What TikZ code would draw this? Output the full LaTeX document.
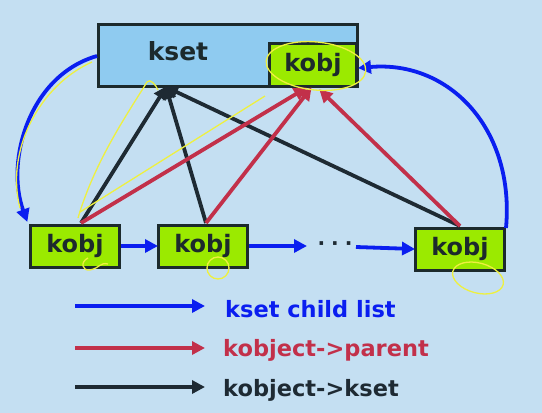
\documentclass[tikz,border=0pt]{standalone}
\usepackage{fontspec}
\setmainfont{DejaVu Sans}
\usetikzlibrary{arrows.meta,calc}
\definecolor{bg}{HTML}{C4DFF2}
\definecolor{ksetfill}{HTML}{8FCBF0}
\definecolor{lime}{HTML}{9BEA00}
\definecolor{edge}{HTML}{1C2A2C}
\definecolor{bluearr}{HTML}{0A1EF0}
\definecolor{redarr}{HTML}{C2304A}
\definecolor{blackarr}{HTML}{1E2A33}
\definecolor{hl}{HTML}{EEF040}
\tikzset{
  ksetbox/.style={draw=edge, line width=3pt, fill=ksetfill, minimum width=259pt, minimum height=62pt, inner sep=0pt, anchor=north west},
  kobjbox/.style={draw=edge, line width=3pt, fill=lime, minimum width=89pt, minimum height=42pt, inner sep=0pt, text=edge, font=\fontsize{24}{28}\selectfont\bfseries},
  lbl/.style={font=\fontsize{22.5}{26}\selectfont\bfseries, anchor=west, inner sep=0pt},
  arr/.style={line width=3.8pt, -{Triangle[length=13pt,width=13pt]}, shorten >=-1pt},
  bluel/.style={arr, draw=bluearr},
  redl/.style={arr, draw=redarr},
  blackl/.style={arr, draw=blackarr},
  mark yellow/.style={draw=hl, line width=1.3pt}
}
\begin{document}
\begin{tikzpicture}[x=1pt,y=-1pt]
\fill[bg] (0,0) rectangle (542,413);
\useasboundingbox (0,0) rectangle (542,413);
% boxes
\node[ksetbox] (kset) at (97,23) {};
\node[text=edge, font=\fontsize{25}{30}\selectfont\bfseries, inner sep=0pt] (ksettext) at (178,51) {kset};
\node[kobjbox, minimum width=87pt, minimum height=43pt, anchor=north west] (kin) at (268,42) {kobj};
\node[kobjbox] (k1) at (75,246) {kobj};
\node[kobjbox] (k2) at (203,246) {kobj};
\node[kobjbox] (k3) at (460,249) {kobj};
% anchor coordinates
\coordinate (kbot) at (166,87);
\coordinate (kin1) at (306,88);
\coordinate (kin2) at (311,88);
\coordinate (kin3) at (320,90);
\coordinate (s1) at (81,223);
\coordinate (s2) at (206,223);
\coordinate (s3) at (460,226);
% black arrows
\draw[blackl] (s1) -- (kbot);
\draw[blackl] (s2) -- (kbot);
\draw[blackl] (s3) -- (kbot);
% red arrows
\draw[redl] (s1) -- (kin1);
\draw[redl] (s2) -- (kin2);
\draw[redl] (s3) -- (kin3);
% blue curved
\coordinate (lstart) at (97,56);
\coordinate (lend) at (27,221);
\draw[bluel] (lstart) .. controls (30,75) and (5,160) .. (lend);
\coordinate (rstart) at (506,228);
\coordinate (rend) at (359,68);
\draw[bluel] (rstart) .. controls (515,130) and (450,60) .. (rend);
% chain
\draw[bluel] (k1) -- (k2);
\coordinate (c1) at (306,246);
\coordinate (c2) at (356,247);
\draw[bluel] (k2.east) -- (c1);
\node[text=blackarr, font=\fontsize{20}{24}\selectfont\bfseries, inner sep=0pt] (dots) at (335,246) {·\hspace{6pt}·\hspace{6pt}·};
\draw[bluel] (c2) -- (k3.west);
% legend
\coordinate (la1) at (75,306); \coordinate (lb1) at (204,306);
\coordinate (la2) at (75,348); \coordinate (lb2) at (204,348);
\coordinate (la3) at (75,387); \coordinate (lb3) at (204,387);
\draw[bluel] (la1) -- (lb1);
\draw[redl] (la2) -- (lb2);
\draw[blackl] (la3) -- (lb3);
\node[lbl, text=bluearr] (t1) at (225,309) {kset child list};
\node[lbl, text=redarr] (t2) at (223,350) {kobject->parent};
\node[lbl, text=blackarr] (t3) at (223,390) {kobject->kset};
% yellow hand marks
\draw[mark yellow, rotate around={-6:(316,66)}] (316,66) ellipse [x radius=50, y radius=24];
\draw[mark yellow] (265,96) -- (80,212);
\draw[mark yellow] (78,218) .. controls (95,160) and (130,110) .. (147,82) .. controls (150,78) and (156,85) .. (158,90);
\draw[mark yellow] (92,62) .. controls (40,85) and (5,150) .. (20,208);
\draw[mark yellow] (88,258) .. controls (80,262) and (82,271) .. (90,270) .. controls (100,268) and (100,262) .. (108,264);
\draw[mark yellow] (218,268) circle [radius=11];
\draw[mark yellow, rotate around={-15:(478,278)}] (478,278) ellipse [x radius=26, y radius=15];
\end{tikzpicture}
\end{document}
